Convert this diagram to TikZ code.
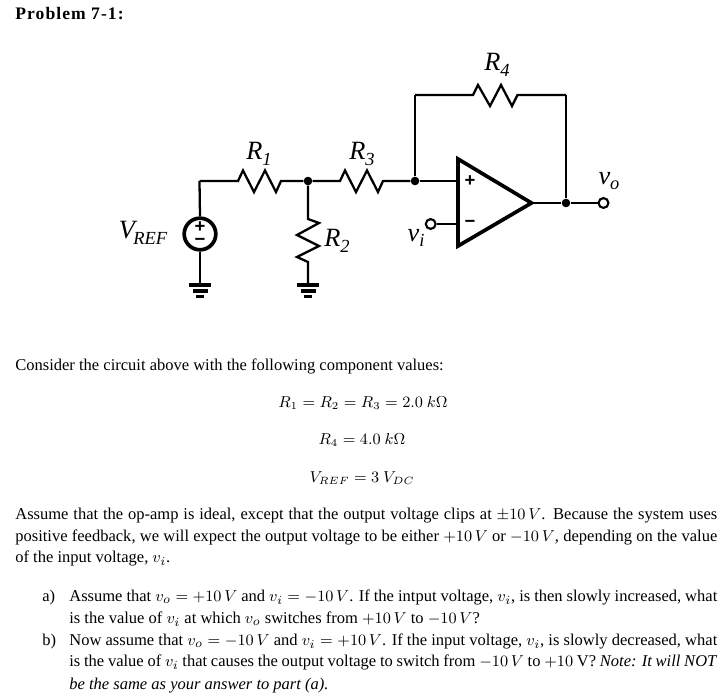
\documentclass[tikz,border=0pt]{standalone}
\usepackage{amsmath}
\usepackage{fontspec}
\setmainfont{Liberation Serif}
\newfontfamily\signfont{Liberation Sans}
\usepackage{tikz}
\newlength{\pxu}
\setlength{\pxu}{0.02cm}
\newcommand{\fullline}[1]{\hbox to 648\pxu{#1}}
\newcommand{\wideline}[1]{\hbox to 702\pxu{#1}}
\newcommand{\sublab}[1]{\raisebox{-0.45ex}{\fontsize{10.5}{11}\selectfont #1}}
\tikzset{
  wire/.style={line width=1.3pt,line join=miter},
  heavy/.style={line width=2.1pt,line join=miter},
  dot/.style={circle,fill=black,inner sep=0pt,minimum size=4.9pt},
  term/.style={circle,draw,fill=white,line width=1.2pt,inner sep=0pt,minimum size=5.6pt},
  txt/.style={anchor=base west,inner sep=0pt,font=\fontsize{9.4}{11}\selectfont},
  eqn/.style={anchor=base,inner sep=0pt,font=\fontsize{8.85}{11}\selectfont},
  lab/.style={inner sep=0pt,font=\fontsize{15}{16}\selectfont\itshape},
  sign/.style={inner sep=0pt,font=\fontsize{10.5}{10}\selectfont\bfseries\signfont},
  pics/gnd/.style={code={
    \draw[line width=1.9pt] (-11,0) -- (11,0);
    \draw[line width=1.9pt] (-7.5,6) -- (7.5,6);
    \draw[line width=1.9pt] (-4,11.5) -- (4,11.5);
  }}
}
\begin{document}
\begin{tikzpicture}[x=0.02cm,y=-0.02cm]
\useasboundingbox (0,0) rectangle (725,696);

% title
\node[txt,font=\fontsize{10}{12}\selectfont\bfseries\addfontfeature{LetterSpace=6}] (title) at (15,20) {Problem 7-1:};

% circuit points
\coordinate (corner) at (199.5,181);
\node[circle,draw,heavy,inner sep=0pt,minimum size=18pt] (vref) at (200,234) {};
\coordinate (gndA) at (200,285);
\coordinate (gndB) at (308,285);
\node[dot] (jA) at (308,181) {};
\node[dot] (jB) at (415,181) {};
\node[dot] (jC) at (566,203) {};
\node[term] (vout) at (603.5,203) {};
\node[term] (vin) at (430.7,224) {};
\coordinate (plusin) at (458,181);
\coordinate (minusin) at (458,224);
\coordinate (amptip) at (531.5,203);
\coordinate (fbL) at (415,95);
\coordinate (fbR) at (566,95);

% resistors
\draw[wire] (corner) -- (238,181) -- (243,170.5) -- (254,192) -- (265,170.5) -- (276,192) -- (281,181) -- (jA);
\draw[wire] (jA) -- (340,181) -- (345,170.5) -- (356,192) -- (367,170.5) -- (378,192) -- (383,181) -- (jB);
\draw[wire] (jA) -- (308,219) -- (319,223) -- (297,235) -- (319,246) -- (297,257) -- (308,262) -- (gndB);
\draw[wire] (fbL) -- (473,95) -- (478,85) -- (490,106) -- (501,85) -- (512,106) -- (517.5,95) -- (fbR);

% other wires
\draw[wire] (vref.north) -- (corner);
\draw[wire] (vref.south) -- (gndA);
\draw[wire] (jB) -- (fbL);
\draw[wire] (fbR) -- (jC);
\draw[wire] (jB) -- (plusin);
\draw[wire] (vin) -- (minusin);
\draw[wire] (amptip) -- (jC) -- (vout);
\pic at (gndA) {gnd};
\pic at (gndB) {gnd};

% op-amp
\draw[heavy] (458,159) -- (amptip) -- (458,246) -- cycle;
\node[sign] (ampplus) at (470,181) {+};
\node[sign] (ampminus) at (470,224) {−};
\node[sign] (srcplus) at (200,227) {+};
\node[sign] (srcminus) at (200,242) {−};

% labels
\node[lab] (labA) at (259,154) {R\sublab{1}};
\node[lab] (labB) at (362,154) {R\sublab{3}};
\node[lab] (labC) at (497,65) {R\sublab{4}};
\node[lab] (labD) at (337,241) {R\sublab{2}};
\node[lab] (labE) at (143,233) {V\hspace{-1pt}\sublab{REF}};
\node[lab] (labF) at (416,238) {v\sublab{i}};
\node[lab] (labG) at (609,181) {v\sublab{o}};

% text
\node[txt] (lineA) at (15,371) {Consider the circuit above with the following component values:};
\node[eqn] (eqA) at (363,408) {$R_1=R_2=R_3=2.0\ k\Omega$};
\node[eqn] (eqB) at (362,445) {$R_4=4.0\ k\Omega$};
\node[eqn] (eqC) at (362,483) {$V_{REF}=3\ V_{DC}$};
\node[txt] (lineB) at (15,520) {\wideline{Assume that the op-amp is ideal, except that the output voltage clips at $\pm10\,V$. Because the system uses}};
\node[txt] (lineC) at (15,542) {\wideline{positive feedback, we will expect the output voltage to be either $+10\,V$ or $-10\,V$, depending on the value}};
\node[txt] (lineD) at (15,563) {of the input voltage, $v_i$.};
\node[txt] (itemA) at (42,602) {a)};
\node[txt] (lineE) at (69,602) {\fullline{Assume that $v_o=+10\,V$ and $v_i=-10\,V$. If the intput voltage, $v_i$, is then slowly increased, what}};
\node[txt] (lineF) at (69,624) {is the value of $v_i$ at which $v_o$ switches from $+10\,V$ to $-10\,V$?};
\node[txt] (itemB) at (42,646) {b)};
\node[txt] (lineG) at (69,646) {\fullline{Now assume that $v_o=-10\,V$ and $v_i=+10\,V$. If the input voltage, $v_i$, is slowly decreased, what}};
\node[txt] (lineH) at (69,667) {\fullline{is the value of $v_i$ that causes the output voltage to switch from $-10\,V$ to $+10$ V? \textit{Note: It will NOT}}};
\node[txt] (lineI) at (69,690) {\textit{be the same as your answer to part (a).}};
\end{tikzpicture}
\end{document}
